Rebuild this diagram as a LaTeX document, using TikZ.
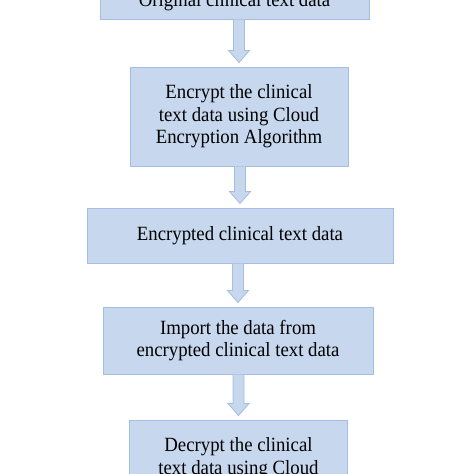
\documentclass[tikz,border=0pt]{standalone}
\usepackage{fontspec}
\setmainfont{Liberation Serif}[FakeStretch=0.93]
\usetikzlibrary{calc}
\definecolor{boxfill}{HTML}{C6D7EE}
\definecolor{boxline}{HTML}{A4BEE0}
\begin{document}
\begin{tikzpicture}
  [x=1pt,y=-1pt,
   every node/.style={rectangle,draw=boxline,fill=boxfill,line width=1pt,inner sep=0pt,align=center,
     font=\fontsize{20.2}{22.6}\selectfont,text=black},
   blockarrow/.style={draw=boxline,fill=boxfill,line width=0.8pt,
     to path={let \p1=(\tikztostart), \p2=(\tikztotarget) in
       (\x1-5.5pt,\y1) -- (\x1-5.5pt,\y2+16pt) -- (\x1-10.5pt,\y2+16pt) -- (\x1,\y2+4pt)
       -- (\x1+10.5pt,\y2+16pt) -- (\x1+5.5pt,\y2+16pt) -- (\x1+5.5pt,\y1)}}]
  \useasboundingbox (0,0) rectangle (474,474);
  \clip (0,0) rectangle (474,474);
  \node[minimum width=269pt,minimum height=35pt] (n1) at (234.5,1.5) {Original clinical text data};
  \node[minimum width=218pt,minimum height=99pt] (n2) at (239,116.5)
    {Encrypt the clinical\\text data using Cloud\\Encryption Algorithm};
  \node[minimum width=306pt,minimum height=55pt] (n3) at (240,235.5) {Encrypted clinical text data};
  \node[minimum width=270pt,minimum height=67pt] (n4) at (238,340.5)
    {Import the data from\\encrypted clinical text data};
  \node[minimum width=218pt,minimum height=99pt] (n5) at (238.5,469.5)
    {Decrypt the clinical\\text data using Cloud\\Encryption Algorithm};
  \path (n2.north |- n1.south) edge[blockarrow] (n2.north)
        (n3.north |- n2.south) edge[blockarrow] (n3.north)
        (n4.north |- n3.south) edge[blockarrow] (n4.north)
        (n5.north |- n4.south) edge[blockarrow] (n5.north);
\end{tikzpicture}
\end{document}
